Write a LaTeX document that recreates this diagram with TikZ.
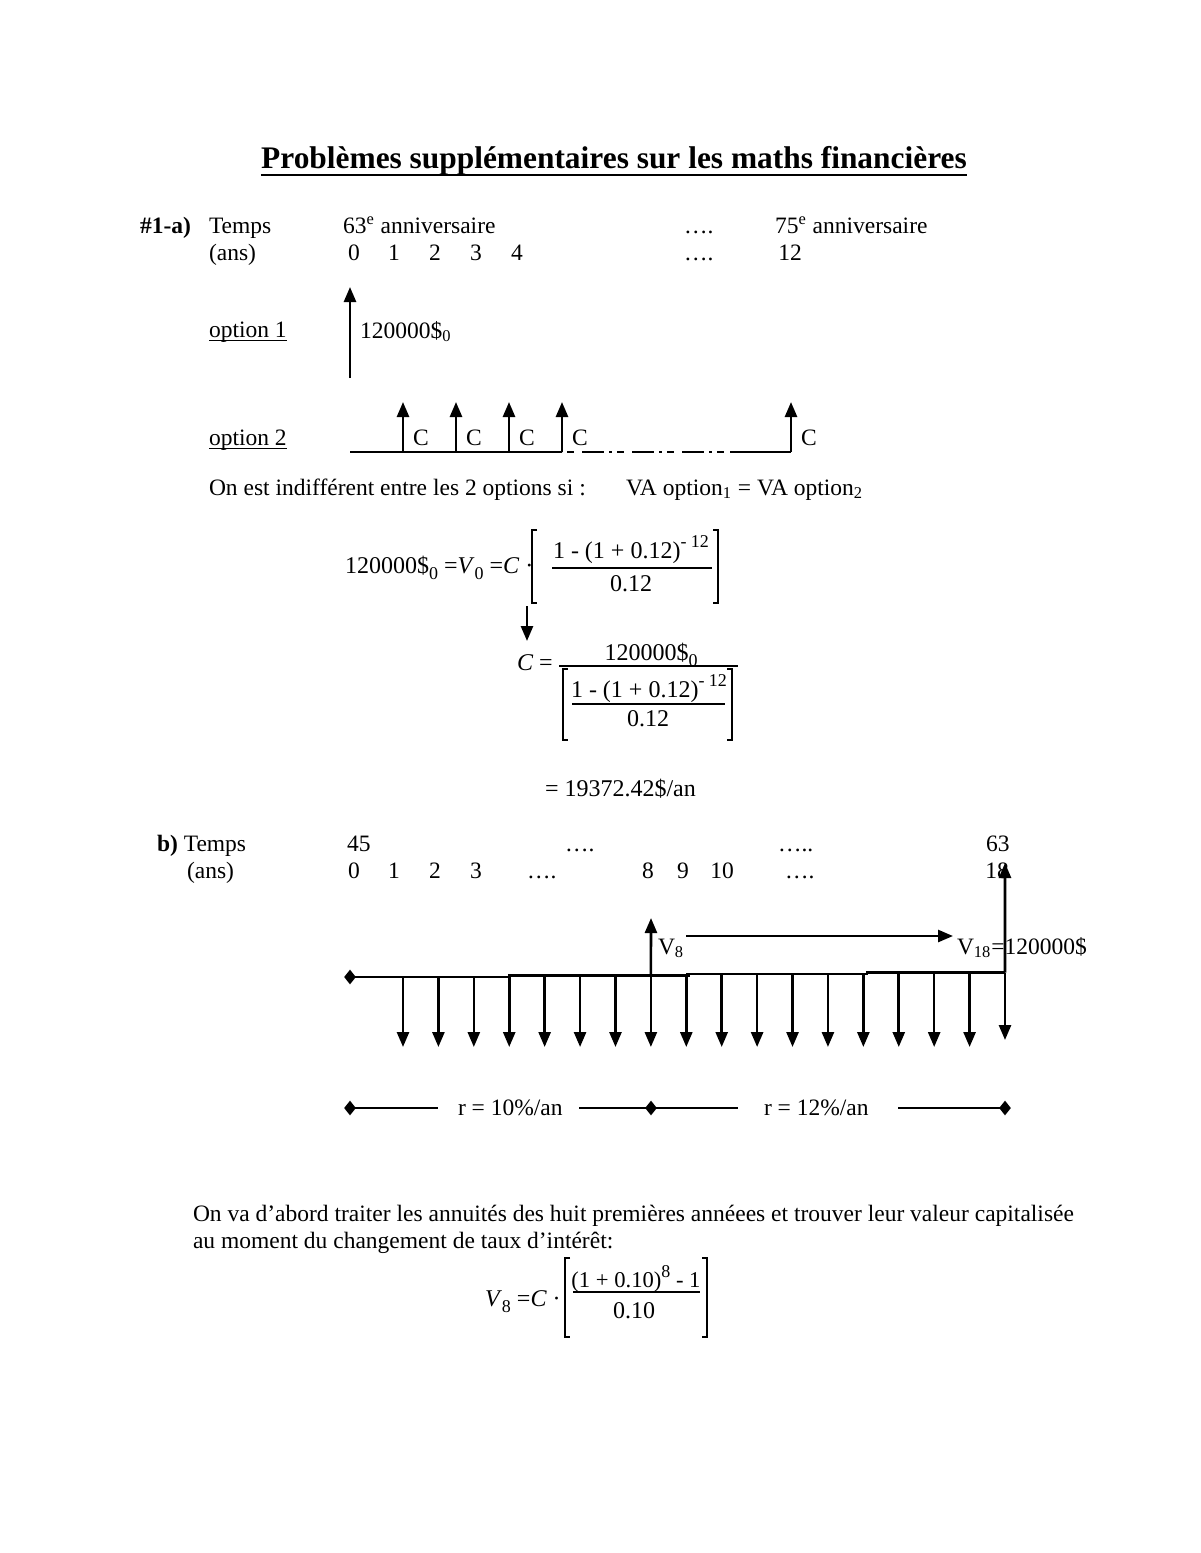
\documentclass[tikz,border=0pt]{standalone}
\usepackage{fontspec}
\setmainfont{Liberation Serif}
\usetikzlibrary{arrows.meta,shapes.geometric}
\newcommand\bodyfont{\fontsize{11.75}{14}\selectfont}
\newcommand\eqfont{\fontsize{12}{14}\selectfont}
\newcommand\supfont{\fontsize{9}{9}\selectfont}
\newcommand\mysup[1]{\raisebox{0.42em}{\supfont #1}}
\newcommand\mysub[1]{\raisebox{-0.25em}{\supfont #1}}
\begin{document}
\begin{tikzpicture}[x=0.5pt,y=-0.5pt,
  txt/.style={anchor=base west,inner sep=0pt,outer sep=0pt,font=\bodyfont},
  ctxt/.style={anchor=base,inner sep=0pt,outer sep=0pt,font=\bodyfont},
  eq/.style={anchor=base west,inner sep=0pt,outer sep=0pt,font=\eqfont},
  ceq/.style={anchor=base,inner sep=0pt,outer sep=0pt,font=\eqfont},
  flow/.style={line width=1.3pt},
  arr/.style={flow,-{Triangle[length=7.5pt,width=6pt]}},
  fbar/.style={line width=0.7pt},
  brk/.style={line width=0.6pt},
  dia/.style={diamond,fill=black,inner sep=0pt,minimum width=6pt,minimum height=7.5pt},
  ul/.style={line width=0.5pt},
  dashdot/.style={flow,dash pattern=on 11pt off 2.5pt on 1.5pt off 2.5pt on 3.5pt off 4pt,dash phase=15pt}
]
\useasboundingbox[fill=white] (0,0) rectangle (1200,1553);

% Title
\node[anchor=base,inner sep=0pt,font=\fontsize{15.7}{18}\selectfont\bfseries] (title) at (614,168) {Problèmes supplémentaires sur les maths financières};
\draw[line width=1.2pt] ([yshift=-3.5pt]title.base west) -- ([yshift=-3.5pt]title.base east);

% Part a header
\node[txt,font=\bodyfont\bfseries] (a1) at (140,233) {\#1-a)};
\node[txt] (tempsA) at (209,233) {Temps};
\node[txt] (ann63) at (343,233) {63\textsuperscript{e} anniversaire};
\node[txt] (dotsA1) at (684,233) {….};
\node[txt] (ann75) at (775,233) {75\textsuperscript{e} anniversaire};
\node[txt] (ansA) at (209,260) {(ans)};
\foreach \x/\t in {354/0,394/1,435/2,476/3,517/4}{\node[ctxt] (na\t) at (\x,260) {\t};}
\node[txt] (dotsA2) at (684,260) {….};
\node[ctxt] (na12) at (790,260) {12};

% option 1
\node[txt] (o1) at (209,337) {option 1};
\draw[ul] ([yshift=-1.5pt]o1.base west) -- ([yshift=-1.5pt]o1.base east);
\coordinate (o1bot) at (350,378);
\coordinate (o1top) at (350,287);
\draw[arr] (o1bot) -- (o1top);
\node[txt] (o1lab) at (360,338) {120000\$\textsubscript{0}};

% option 2
\node[txt] (o2) at (209,445) {option 2};
\draw[ul] ([yshift=-1.5pt]o2.base west) -- ([yshift=-1.5pt]o2.base east);
\coordinate (q0) at (350,452);
\coordinate (qa) at (562,452);
\coordinate (qb) at (730,452);
\coordinate (q12) at (791,452);
\draw[flow] (q0) -- (qa);
\draw[dashdot] (qa) -- (qb);
\draw[flow] (qb) -- (q12);
\foreach \x/\n in {403/1,456/2,509/3,562/4,791/12}{
  \coordinate (u\n) at (\x,452);
  \coordinate (v\n) at (\x,402);
  \draw[arr] (u\n) -- (v\n);
  \node[txt] (c\n) at (\x+10,445) {C};
}

\node[txt] (indiff) at (209,495) {On est indifférent entre les 2 options si :};
\node[txt] (vaeq) at (626,495) {VA option\textsubscript{1} = VA option\textsubscript{2}};

% Formula 1
\node[eq] (f1l) at (345,573) {120000\$\mysub{0} =\textit{V}\mysub{0} =\textit{C} ·};
\draw[brk] (537,530) -- (532,530) -- (532,603) -- (537,603);
\draw[fbar] (552,568) -- (712,568);
\node[ceq] (f1n) at (631,558) {1 - (1 + 0.12)\mysup{- 12}};
\node[ceq] (f1d) at (631,591) {0.12};
\draw[brk] (713,530) -- (718,530) -- (718,603) -- (713,603);

\coordinate (da1) at (527,606);
\coordinate (da2) at (527,641);
\draw[arr] (da1) -- (da2);

% Formula 2
\node[eq] (f2l) at (517,670) {\textit{C} =};
\draw[fbar] (559,666) -- (738,666);
\node[ceq] (f2n) at (651,660) {120000\$\mysub{0}};
\draw[brk] (568,669) -- (563,669) -- (563,740) -- (568,740);
\draw[brk] (727,669) -- (732,669) -- (732,740) -- (727,740);
\node[ceq] (f2in) at (649,697) {1 - (1 + 0.12)\mysup{- 12}};
\draw[fbar] (572,704) -- (725,704);
\node[ceq] (f2id) at (648,726) {0.12};

\node[eq] (res) at (545,796) {= 19372.42\$/an};

% Part b header
\node[txt] (tempsB) at (157,851) {\textbf{b)} Temps};
\node[txt] (n45) at (347,851) {45};
\node[txt] (dotsB1) at (565,851) {….};
\node[txt] (dotsB2) at (778,851) {…..};
\node[txt] (n63) at (986,851) {63};
\node[txt] (ansB) at (187,878) {(ans)};
\foreach \x/\t in {354/0,394/1,435/2,476/3,648/8,683/9,722/10,997/18}{\node[ctxt] (nb\t) at (\x,878) {\t};}
\node[txt] (dotsB3) at (527,878) {….};
\node[txt] (dotsB4) at (785,878) {….};

% timeline b
\node[dia] (s0) at (350,977) {};
\coordinate (sA) at (510,977);
\coordinate (sB) at (508,975.5);
\coordinate (sC) at (690,975.5);
\coordinate (sD) at (686,974);
\coordinate (sE) at (868,974);
\coordinate (sF) at (866,972.5);
\coordinate (sG) at (1005,972.5);
\draw[flow] (s0.center) -- (sA);
\draw[flow] (sB) -- (sC);
\draw[flow] (sD) -- (sE);
\draw[flow] (sF) -- (sG);

\foreach \k in {1,...,18}{
  \pgfmathsetmacro\xx{403+35.412*(\k-1)}
  \pgfmathsetmacro\yy{\xx<509?977:(\xx<688?975.5:(\xx<867?974:972.5))}
  \pgfmathsetmacro\ye{\k==18?1040:1047}
  \coordinate (dt\k) at (\xx,\yy);
  \coordinate (db\k) at (\xx,\ye);
  \draw[arr] (dt\k) -- (db\k);
}
\coordinate (v8t) at (651,918);
\draw[arr] (dt8) -- (v8t);
\coordinate (v18t) at (1005,863);
\draw[arr] (dt18) -- (v18t);
\node[txt] (v8lab) at (658,954) {V\textsubscript{8}};
\coordinate (h1) at (686,936);
\coordinate (h2) at (953,936);
\draw[arr] (h1) -- (h2);
\node[txt] (v18lab) at (957,954) {V\textsubscript{18}=120000\$};

% rates
\node[dia] (r0) at (350,1108) {};
\node[dia] (r8) at (651,1108) {};
\node[dia] (r18) at (1005,1108) {};
\coordinate (ra) at (438,1108);
\coordinate (rb) at (579,1108);
\coordinate (rc) at (738,1108);
\coordinate (rd) at (898,1108);
\draw[flow] (r0.center) -- (ra);
\draw[flow] (rb) -- (r8.center) -- (rc);
\draw[flow] (rd) -- (r18.center);
\node[txt] (rate1) at (458,1115) {r = 10\%/an};
\node[txt] (rate2) at (764,1115) {r = 12\%/an};

% paragraph
\node[txt] (para1) at (193,1221) {On va d’abord traiter les annuités des huit premières annéees et trouver leur valeur capitalisée};
\node[txt] (para2) at (193,1248) {au moment du changement de taux d’intérêt:};

% Formula 3
\node[eq] (f3l) at (485,1306) {\textit{V}\mysub{8} =\textit{C} ·};
\draw[brk] (570,1258) -- (565,1258) -- (565,1337) -- (570,1337);
\draw[brk] (702,1258) -- (707,1258) -- (707,1337) -- (702,1337);
\draw[fbar] (573,1292) -- (700,1292);
\node[ceq,font=\fontsize{11.3}{14}\selectfont] (f3n) at (636,1287) {(1 + 0.10)\mysup{8} - 1};
\node[ceq] (f3d) at (634,1318) {0.10};
\end{tikzpicture}
\end{document}
